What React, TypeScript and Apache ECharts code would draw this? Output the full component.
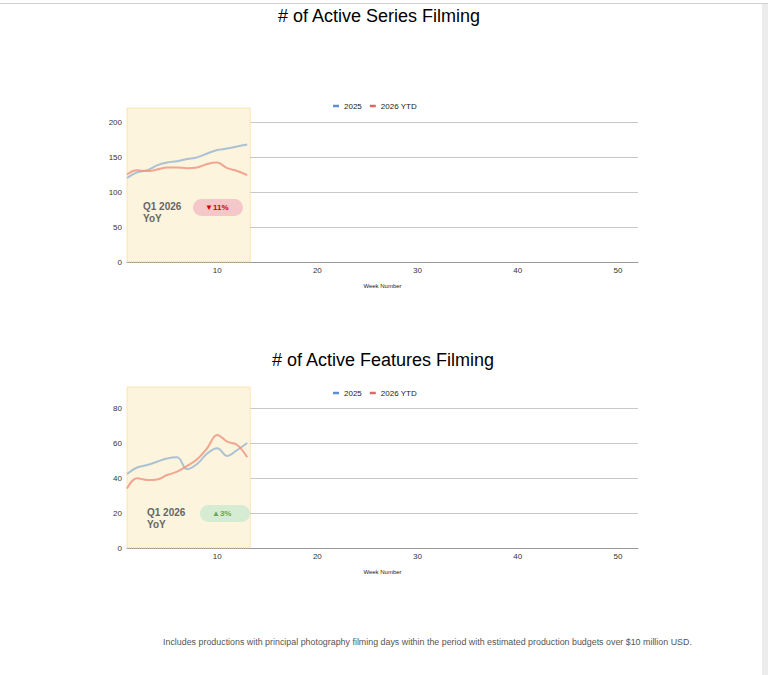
import React, { useEffect, useRef } from "react";
import * as echarts from "echarts";

const weeks = [1, 2, 3, 4, 5, 6, 7, 8, 9, 10, 11, 12, 13];
const series2025 = [120, 128, 131, 138, 142, 144, 147, 149.5, 155, 160, 162, 165, 168];
const series2026 = [125, 131, 130, 132, 135, 135, 134, 135, 140, 142, 134, 130, 124];
const features2025 = [42.3, 46, 47.4, 49.3, 51.2, 51.8, 45, 48, 54, 57, 52.6, 56, 60];
const features2026 = [34, 39.8, 38.9, 39.2, 41.7, 43.6, 46.9, 50.7, 57, 64.6, 60.8, 58.9, 51.8];
const legendNames = ["2025", "2026 YTD"];
const titles = ["# of Active Series Filming", "# of Active Features Filming"];
const q1Label = "Q1 2026\nYoY";
const yoySeries = "▼11%";
const yoyFeatures = "▲3%";
const footer =
  "Includes productions with principal photography filming days within the period with estimated production budgets over $10 million USD.";

const BLUE = "#5b8fd6";
const RED = "#e06666";
const BLUE_LINE = "rgba(150,180,210,0.8)";
const RED_LINE = "rgba(240,150,130,0.85)";

export default function App() {
  const ref = useRef<HTMLDivElement>(null);
  useEffect(() => {
    document.body.style.margin = "0";
    const chart = echarts.init(ref.current!, undefined, { renderer: "svg" });
    const font = "Liberation Sans, Arial, sans-serif";
    const pair = (a: number[]) => weeks.map((w, i) => [w, a[i]]);
    const xAxisBase = (gridIndex: number) => ({
      type: "value",
      gridIndex,
      min: 1,
      max: 52,
      interval: 1,
      name: "Week Number",
      nameLocation: "middle",
      nameGap: 21,
      nameTextStyle: { fontSize: 6, color: "#222", fontFamily: font },
      axisLine: { show: true, lineStyle: { color: "#999", width: 1 } },
      axisTick: { show: false },
      splitLine: { show: false },
      axisLabel: {
        fontSize: 8,
        color: "#333",
        fontFamily: font,
        margin: 4,
        formatter: (v: number) => (v % 10 === 0 ? String(v) : ""),
      },
    });
    const yAxisBase = (gridIndex: number, max: number, interval: number) => ({
      type: "value",
      gridIndex,
      min: 0,
      max,
      interval,
      axisLine: { show: false },
      axisTick: { show: false },
      axisLabel: { fontSize: 8, color: "#333", fontFamily: font, margin: 5, showMaxLabel: false },
      splitLine: { show: true, showMaxLine: false, lineStyle: { color: "#c8c8c8", width: 1.2 } },
    });
    const markArea = {
      silent: true,
      itemStyle: {
        color: "#fdf4dd",
        borderColor: "#f1d27a",
        borderType: "dotted",
        borderWidth: 1,
      },
      data: [[{ xAxis: 1 }, { xAxis: 13.3 }]],
    };
    const lineSeries = (name: string, data: number[], idx: number, color: string, withArea: boolean) => ({
      type: "line",
      name,
      xAxisIndex: idx,
      yAxisIndex: idx,
      data: pair(data),
      smooth: 0.4,
      showSymbol: false,
      symbol: "none",
      itemStyle: { color: name === "2025" ? BLUE : RED },
      lineStyle: { color, width: 2 },
      z: 3,
      ...(withArea ? { markArea } : {}),
    });
    const legend = (top: number) => ({
      top,
      left: 328,
      icon: "rect",
      itemWidth: 6,
      itemHeight: 2.5,
      itemGap: 8,
      textStyle: { fontSize: 8, color: "#222", fontFamily: font },
      data: [
        { name: legendNames[0], itemStyle: { color: BLUE } },
        { name: legendNames[1], itemStyle: { color: RED } },
      ],
    });
    const annotation = (x: number, y: number, pillX: number, pillY: number, txt: string, fill: string, tcolor: string) => [
      {
        type: "text",
        left: x,
        top: y,
        z: 10,
        style: { text: q1Label, font: `bold 10px ${font}`, fill: "#666", lineHeight: 12 },
      },
      {
        type: "rect",
        left: pillX,
        top: pillY,
        z: 10,
        shape: { width: 50, height: 17, r: 8.5 },
        style: { fill },
      },
      {
        type: "text",
        left: pillX + 12,
        top: pillY + 4.5,
        z: 11,
        style: { text: txt, font: `bold 8px ${font}`, fill: tcolor },
      },
    ];
    chart.setOption({
      animation: false,
      backgroundColor: "#fff",
      title: [
        { text: titles[0], left: 374, top: 2, textAlign: "center", textStyle: { fontSize: 18, fontWeight: "normal", color: "#000", fontFamily: font } },
        { text: titles[1], left: 378, top: 346, textAlign: "center", textStyle: { fontSize: 18, fontWeight: "normal", color: "#000", fontFamily: font } },
      ],
      legend: [legend(97), legend(384)],
      grid: [
        { left: 127, right: 130, top: 108, height: 154 },
        { left: 127, right: 130, top: 387, height: 161 },
      ],
      xAxis: [xAxisBase(0), xAxisBase(1)],
      yAxis: [yAxisBase(0, 220, 50), yAxisBase(1, 92, 20)],
      series: [
        lineSeries(legendNames[0], series2025, 0, BLUE_LINE, true),
        lineSeries(legendNames[1], series2026, 0, RED_LINE, false),
        lineSeries(legendNames[0], features2025, 1, BLUE_LINE, true),
        lineSeries(legendNames[1], features2026, 1, RED_LINE, false),
      ],
      graphic: [
        { type: "rect", left: 0, top: 3, shape: { width: 768, height: 1 }, style: { fill: "#d0d0d0" } },
        { type: "rect", left: 762, top: 4, shape: { width: 6, height: 671 }, style: { fill: "#ececec" } },
        ...annotation(143, 200, 193, 199, yoySeries, "#f4c7c9", "#cc0000"),
        ...annotation(147, 506, 200, 505, yoyFeatures, "#d6ecd2", "#6aa84f"),
        {
          type: "text",
          left: 163,
          top: 637,
          style: { text: footer, font: `8.9px ${font}`, fill: "#555" },
        },
      ],
    });
    return () => chart.dispose();
  }, []);
  return <div ref={ref} style={{ width: 768, height: 675 }} />;
}
